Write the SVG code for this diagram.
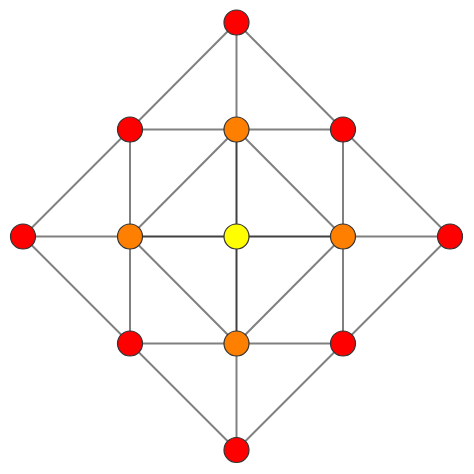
<svg xmlns="http://www.w3.org/2000/svg" width="474" height="474" viewBox="0 0 474 474">
<style>
.e{stroke:#808080;stroke-width:2;fill:none}
.d{stroke:#404040;stroke-width:2;fill:none}
.n{stroke:#333333;stroke-width:1.2}
.r{fill:#ff0000}
.o{fill:#ff8000}
.y{fill:#ffff00}
</style>
<rect width="474" height="474" fill="#ffffff"/>
<g id="connectors">
<line class="e" x1="236.5" y1="22.5" x2="130" y2="129.5"/>
<line class="e" x1="236.5" y1="22.5" x2="343" y2="129.5"/>
<line class="e" x1="236.5" y1="22.5" x2="236.5" y2="129.5"/>
<line class="e" x1="130" y1="129.5" x2="343" y2="129.5"/>
<line class="e" x1="130" y1="129.5" x2="23" y2="236.5"/>
<line class="e" x1="343" y1="129.5" x2="450" y2="236.5"/>
<line class="e" x1="130" y1="129.5" x2="130" y2="343.5"/>
<line class="e" x1="343" y1="129.5" x2="343" y2="343.5"/>
<line class="e" x1="236.5" y1="129.5" x2="130" y2="236.5"/>
<line class="e" x1="236.5" y1="129.5" x2="343" y2="236.5"/>
<line class="e" x1="23" y1="236.5" x2="130" y2="236.5"/>
<line class="e" x1="343" y1="236.5" x2="450" y2="236.5"/>
<line class="d" x1="130" y1="236.5" x2="343" y2="236.5"/>
<line class="d" x1="236.5" y1="129.5" x2="236.5" y2="343.5"/>
<line class="e" x1="23" y1="236.5" x2="130" y2="343.5"/>
<line class="e" x1="450" y1="236.5" x2="343" y2="343.5"/>
<line class="e" x1="130" y1="236.5" x2="236.5" y2="343.5"/>
<line class="e" x1="343" y1="236.5" x2="236.5" y2="343.5"/>
<line class="e" x1="130" y1="343.5" x2="343" y2="343.5"/>
<line class="e" x1="130" y1="343.5" x2="236.5" y2="450"/>
<line class="e" x1="343" y1="343.5" x2="236.5" y2="450"/>
<line class="e" x1="236.5" y1="343.5" x2="236.5" y2="450"/>
</g>
<g id="n1"><circle class="n r" cx="236.5" cy="22.5" r="12.5"/></g>
<g id="n2"><circle class="n r" cx="130" cy="129.5" r="12.5"/></g>
<g id="n3"><circle class="n o" cx="236.5" cy="129.5" r="12.5"/></g>
<g id="n4"><circle class="n r" cx="343" cy="129.5" r="12.5"/></g>
<g id="n5"><circle class="n r" cx="23" cy="236.5" r="12.5"/></g>
<g id="n6"><circle class="n o" cx="130" cy="236.5" r="12.5"/></g>
<g id="n7"><circle class="n y" cx="236.5" cy="236.5" r="12.5"/></g>
<g id="n8"><circle class="n o" cx="343" cy="236.5" r="12.5"/></g>
<g id="n9"><circle class="n r" cx="450" cy="236.5" r="12.5"/></g>
<g id="n10"><circle class="n r" cx="130" cy="343.5" r="12.5"/></g>
<g id="n11"><circle class="n o" cx="236.5" cy="343.5" r="12.5"/></g>
<g id="n12"><circle class="n r" cx="343" cy="343.5" r="12.5"/></g>
<g id="n13"><circle class="n r" cx="236.5" cy="450" r="12.5"/></g>
</svg>
